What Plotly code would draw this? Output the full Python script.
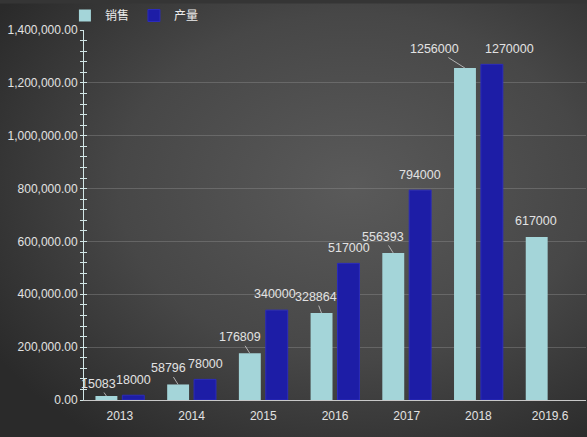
import base64
import plotly.graph_objects as go

# ---- data ----
categories = ["2013", "2014", "2015", "2016", "2017", "2018", "2019.6"]
sales = [15083, 58796, 176809, 328864, 556393, 1256000, 617000]
production = [18000, 78000, 340000, 517000, 794000, 1270000, None]
series_names = ["销售", "产量"]

# ---- styling ----
W, H = 587, 437
ML, MR, MT, MB = 84, 1, 25, 37
FONT = "Liberation Sans, Arial, Noto Sans CJK SC, sans-serif"
SALES_COLOR = "#a4d5d9"
PROD_COLOR = "#1d1da6"
LABEL_COLOR = "#e2e2e2"
AXIS_COLOR = "#d2e6e6"
SLOT = 13.5  # px offset of each bar from category centre

# label offsets (pixels) relative to the bar top; (dx, dy, leader line)
sales_label_offsets = {0: (-8, -12, True), 3: (-6, -16, True), 5: (-30, -19, True), 6: (-1, -16, False)}
sales_default = (-10, -16, True)
prod_label_offsets = {2: (-2, -16, False), 5: (18, -15, False)}
prod_default = (0, -15, False)

fig = go.Figure()
fig.add_trace(go.Bar(
    x=categories, y=sales, name=series_names[0],
    marker=dict(color=SALES_COLOR, line=dict(width=0)),
))
fig.add_trace(go.Bar(
    x=categories, y=production, name=series_names[1],
    marker=dict(color=PROD_COLOR, line=dict(color="#2b2bbb", width=1)),
))
# empty helper trace so the overlaid tick axis (inner half of the crossing ticks) is drawn
fig.add_trace(go.Scatter(
    x=[categories[0]], y=[None], yaxis="y2", showlegend=False,
    hoverinfo="skip", mode="markers", marker=dict(opacity=0),
))

annotations = []
for series, shift, offs, default in ((sales, -SLOT, sales_label_offsets, sales_default),
                                     (production, SLOT, prod_label_offsets, prod_default)):
    for i, v in enumerate(series):
        if v is None:
            continue
        dx, dy, line = offs.get(i, default)
        annotations.append(dict(
            x=i, y=v, xref="x", yref="y", xshift=shift, text=str(v),
            showarrow=True, arrowhead=0, arrowwidth=1, standoff=0,
            arrowcolor="rgba(190,190,190,0.9)" if line else "rgba(0,0,0,0)",
            ax=dx, ay=dy, font=dict(size=12.5, color=LABEL_COLOR, family=FONT),
        ))

svg = (
    f'<svg xmlns="http://www.w3.org/2000/svg" width="{W}" height="{H}">'
    '<defs><radialGradient id="g" cx="0.6" cy="0.42" r="0.72">'
    '<stop offset="0" stop-color="#5a5a5a"/><stop offset="0.55" stop-color="#474747"/>'
    '<stop offset="1" stop-color="#2a2a2a"/></radialGradient></defs>'
    f'<rect width="{W}" height="{H}" fill="url(#g)"/></svg>'
)
bg_src = "data:image/svg+xml;base64," + base64.b64encode(svg.encode()).decode()
pw, ph = W - ML - MR, H - MT - MB

yrange = [0, 1400000]
fig.update_layout(
    width=W, height=H,
    margin=dict(l=ML, r=MR, t=MT, b=MB, pad=0),
    paper_bgcolor="#353535",
    plot_bgcolor="rgba(0,0,0,0)",
    font=dict(family=FONT, color=LABEL_COLOR, size=12),
    barmode="group", bargap=0.25, bargroupgap=0.185,
    images=[dict(
        source=bg_src, xref="paper", yref="paper",
        x=-(ML + 2) / pw, y=1 + (MT + 2) / ph, sizex=(W + 4) / pw, sizey=(H + 4) / ph,
        xanchor="left", yanchor="top", sizing="stretch", layer="below",
    )],
    xaxis=dict(
        type="category", showgrid=False, zeroline=False,
        range=[-0.5, len(categories) - 0.5],
        showline=True, linecolor="#c8c8c8", linewidth=1,
        ticks="outside", ticklen=5, tickcolor="rgba(0,0,0,0)",
        tickfont=dict(size=12, color=LABEL_COLOR, family=FONT),
    ),
    yaxis=dict(
        range=yrange, dtick=200000, tickformat=",.2f",
        showgrid=True, gridcolor="rgba(150,150,150,0.38)", gridwidth=1,
        zeroline=False, showline=True, linecolor=AXIS_COLOR, linewidth=1,
        ticks="outside", ticklen=3, tickcolor=AXIS_COLOR,
        minor=dict(dtick=40000, ticks="outside", ticklen=3, tickcolor=AXIS_COLOR, showgrid=False),
        tickfont=dict(size=12, color=LABEL_COLOR, family=FONT),
    ),
    yaxis2=dict(
        range=yrange, overlaying="y", anchor="x", side="left", dtick=200000,
        showgrid=False, zeroline=False, showticklabels=False, showline=False,
        ticks="inside", ticklen=3, tickcolor=AXIS_COLOR,
        minor=dict(dtick=40000, ticks="inside", ticklen=3, tickcolor=AXIS_COLOR, showgrid=False),
    ),
    legend=dict(
        orientation="h", x=-0.038, y=1, xanchor="left", yanchor="bottom",
        bgcolor="rgba(0,0,0,0)", itemwidth=30, traceorder="normal",
        font=dict(size=12, color="#ececec", family="Noto Sans CJK SC, " + FONT),
    ),
    annotations=annotations,
)

fig.write_html("out.html")
